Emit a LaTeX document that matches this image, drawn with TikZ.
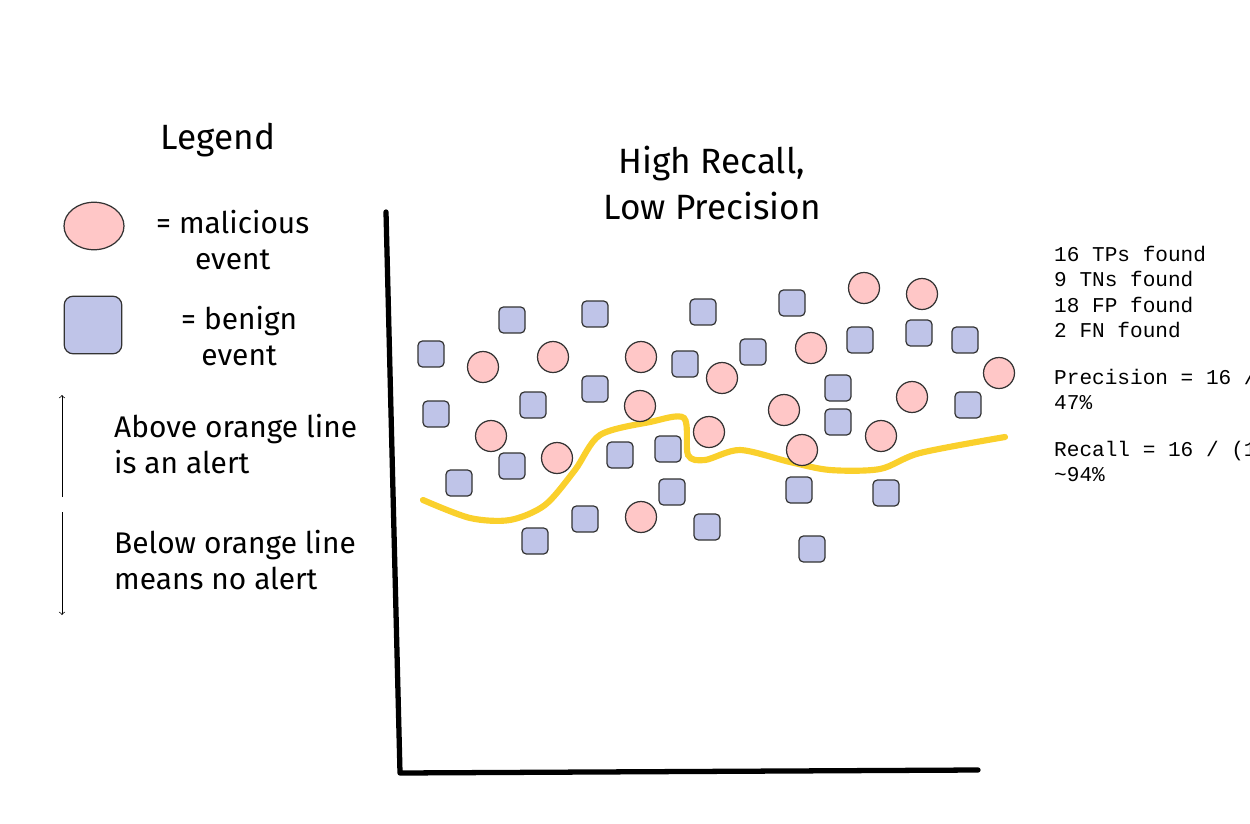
\documentclass[tikz,border=0pt]{standalone}
\usepackage{fontspec}
\usetikzlibrary{shapes.geometric}
\setmainfont{Fira Sans}
\setmonofont{Liberation Mono}
\begin{document}
\begin{tikzpicture}[x=0.02cm,y=-0.02cm,
  mal/.style={circle,draw=black!80,fill=red!22,line width=0.7pt,minimum width=0.62cm,inner sep=0pt},
  ben/.style={rounded corners=2.5pt,draw=black!80,fill=cyan!30!blue!25,line width=0.7pt,minimum size=0.52cm,inner sep=0pt},
  lbl/.style={font=\fontsize{17}{20}\selectfont,align=left,anchor=west},
  stat/.style={font=\ttfamily\fontsize{12}{14.5}\selectfont,align=left,anchor=north west}]
\useasboundingbox (0,0) rectangle (1250,824);
% legend
\node[font=\fontsize{20}{24}\selectfont] (leg) at (218,140) {Legend};
\node[mal,ellipse,minimum width=1.2cm,minimum height=0.95cm] (lm) at (94,226) {};
\node[ben,minimum size=1.15cm,rounded corners=5pt] (lb) at (93,325) {};
\node[lbl,align=center] (lmt) at (150,240) {= malicious\\event};
\node[lbl,align=center] (lbt) at (175,336) {= benign\\event};
\coordinate (u1) at (62,497); \coordinate (u2) at (62,395);
\coordinate (d1) at (62,512); \coordinate (d2) at (62,615);
\draw[->,thin] (u1) -- (u2);
\draw[->,thin] (d1) -- (d2);
\node[lbl] (at) at (108,444) {Above orange line\\is an alert};
\node[lbl] (bt) at (108,560) {Below orange line\\means no alert};
% title
\node[font=\fontsize{20}{26}\selectfont,align=center] (title) at (712,183) {High Recall,\\Low Precision};
% axes
\coordinate (ya) at (386,212); \coordinate (o) at (400,773); \coordinate (xa) at (978,770);
\draw[line width=3pt,line cap=round,line join=round] (ya) -- (o) -- (xa);
% threshold
\draw[line width=3.5pt,color={rgb,255:red,250;green,208;blue,44},line cap=round]
 plot[smooth,tension=0.5] coordinates {(423,500) (470,518) (510,520) (545,505) (575,470) (600,435) (650,422) (684,418) (688,455) (705,460) (740,450) (790,462) (830,470) (880,469) (920,453) (1005,437)};
% malicious
\foreach \n/\x/\y in {m1/864/288,m2/922/294,m3/483/367,m4/553/357,m5/641/357,m6/722/378,m7/811/348,m8/999/373,m9/640/406,m10/784/410,m11/912/397,m12/491/436,m13/557/458,m14/709/432,m15/802/450,m16/881/436,m17/641/517}
  \node[mal] (\n) at (\x,\y) {};
% benign
\foreach \n/\x/\y in {b1/431/354,b2/512/320,b3/595/314,b4/703/312,b5/792/303,b6/860/340,b7/919/333,b8/965/340,b9/685/364,b10/753/352,b11/595/389,b12/533/405,b13/436/414,b14/838/388,b15/838/422,b16/968/405,b17/620/455,b18/668/449,b19/512/466,b20/459/483,b21/672/492,b22/799/490,b23/886/493,b24/585/519,b25/707/527,b26/535/541,b27/812/549}
  \node[ben] (\n) at (\x,\y) {};
% stats
\node[stat] (st) at (1048,240) {16 TPs found\\9 TNs found\\18 FP found\\2 FN found\\[12pt]Precision = 16 / (1\\47\%\\[12pt]Recall = 16 / (16\\\textasciitilde94\%};
\end{tikzpicture}
\end{document}
